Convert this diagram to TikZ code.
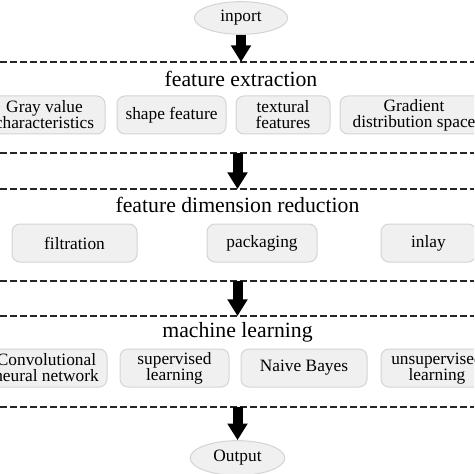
\documentclass[tikz,border=0pt]{standalone}
\usepackage{fontspec}
\setmainfont{Liberation Serif}
\usetikzlibrary{arrows.meta,shapes.geometric}

\definecolor{boxfill}{RGB}{240,240,240}
\definecolor{boxline}{RGB}{212,212,212}

\tikzset{every picture/.style={line width=0.75pt},
	stagebox/.style={draw=boxline, fill=boxfill, rounded corners=6pt, align=center, inner sep=0pt, minimum height=28.5pt, font=\fontsize{13}{12}\selectfont},
	endnode/.style={ellipse, draw=boxline, fill=boxfill, inner sep=0pt, minimum width=70pt, minimum height=24.5pt, font=\fontsize{13}{15}\selectfont},
	steptitle/.style={font=\fontsize{16.3}{18}\selectfont},
	sepline/.style={dash pattern=on 4.9pt off 2.6pt, line width=1pt, black!85},
	flowarrow/.style={line width=7.5pt, -{Triangle[width=14.5pt,length=12.5pt]}}
}

\begin{document}
\begin{tikzpicture}[x=0.75pt,y=0.75pt,yscale=-1,xscale=1]
	\path[use as bounding box] (0,0) rectangle (474,474);
	\clip (0,0) rectangle (474,474);
	
	% Ellipse: start
	\node[endnode] (inport) at (241,18) {inport};
	% Ellipse: end
	\node[endnode, minimum width=71pt, minimum height=26pt] (output) at (237.5,458) {Output};
	
	% Dashed separators
	\draw[sepline] (0,62) -- (474,62);
	\draw[sepline] (0,153) -- (474,153);
	\draw[sepline] (0,189) -- (474,189);
	\draw[sepline] (0,281) -- (474,281);
	\draw[sepline] (0,316) -- (474,316);
	\draw[sepline] (0,407) -- (474,407);
	\coordinate (d1) at (241,62);
	\coordinate (d2) at (237.5,153);
	\coordinate (d3) at (237.5,189);
	\coordinate (d4) at (237.5,281);
	\coordinate (d5) at (237.5,316);
	\coordinate (d6) at (237.5,407);
	
	% Text Node
	\node[steptitle] (extract) at (241,79) {feature extraction};
	% Text Node
	\node[steptitle] (reduce) at (237.5,205) {feature dimension reduction};
	% Text Node
	\node[steptitle] (learn) at (237.5,332) {machine learning};
	
	% Row: feature extraction
	\node[stagebox, minimum width=90.75pt] (gray) at (44.5,115) {Gray value\\characteristics};
	\node[stagebox, minimum width=81.75pt] (shape) at (171.5,115) {shape feature};
	\node[stagebox, minimum width=70.5pt] (texture) at (283,115) {textural\\features};
	\node[stagebox, minimum width=111pt] (gradient) at (414,115) {Gradient\\distribution space};
	
	% Row: feature dimension reduction
	\node[stagebox, minimum width=93.75pt] (filter) at (74.5,243) {filtration};
	\node[stagebox, minimum width=82.5pt] (packing) at (262,243) {packaging};
	\node[stagebox, minimum width=71.25pt] (inlay) at (428.5,243) {inlay};
	
	% Row: machine learning
	\node[stagebox, minimum width=90.75pt] (cnn) at (46.5,368) {Convolutional\\neural network};
	\node[stagebox, minimum width=81.75pt] (superv) at (174.5,368) {supervised\\learning};
	\node[stagebox, minimum width=94.5pt] (bayes) at (304,368) {Naive Bayes};
	\node[stagebox, minimum width=84pt] (unsuperv) at (437,368) {unsupervised\\learning};
	
	% Block arrows
	\draw[flowarrow] (inport.south) -- (d1);
	\draw[flowarrow] (d2) -- (d3);
	\draw[flowarrow] (d4) -- (d5);
	\draw[flowarrow] (d6) -- (output.north);
	
\end{tikzpicture}
\end{document}
